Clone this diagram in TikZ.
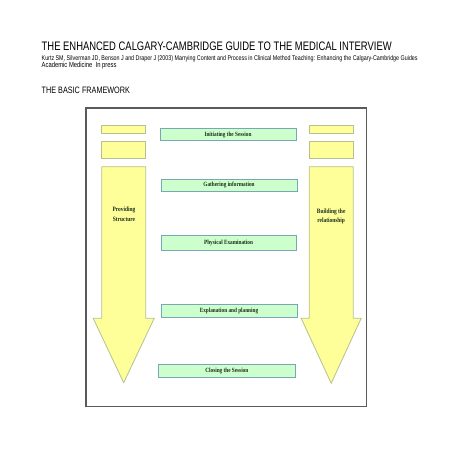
\documentclass[tikz,border=0pt]{standalone}
\usepackage{fontspec}
\setmainfont{Liberation Serif}
\newfontfamily\narrowsans[FakeStretch=0.78]{Liberation Sans}
\newfontfamily\labelserif[FakeStretch=0.82]{Liberation Serif}
\definecolor{yfill}{HTML}{FFFF99}
\definecolor{ydraw}{HTML}{B8C090}
\definecolor{gfill}{HTML}{CCFFCC}
\definecolor{gdraw}{HTML}{78A8B8}
\definecolor{framec}{HTML}{5A5A5A}
\definecolor{labc}{HTML}{1A2E1A}
\tikzset{
  x=1pt, y=-1pt,
  greenbox/.style={draw=gdraw, fill=gfill, line width=0.9pt, inner sep=0pt,
    minimum width=136pt, minimum height=13pt,
    font=\labelserif\bfseries\fontsize{6.4}{7.5}\selectfont, text=labc},
  yellowbox/.style={draw=ydraw, fill=yfill, line width=0.8pt, inner sep=0pt, minimum width=44pt},
  yarrow/.style={draw=ydraw, fill=yfill, line width=0.8pt, line join=miter},
  sidelabel/.style={font=\labelserif\bfseries\fontsize{6.6}{9.5}\selectfont, text=labc, align=center, inner sep=0pt},
  headtext/.style={anchor=base west, inner sep=0pt, text=black}
}
\begin{document}
\begin{tikzpicture}
\useasboundingbox (0,0) rectangle (453,453);
\fill[white] (0,0) rectangle (453,453);
% headings
\node[headtext] (title) at (41.5,50.2) {\resizebox{350pt}{8.6pt}{\narrowsans THE ENHANCED CALGARY-CAMBRIDGE GUIDE TO THE MEDICAL INTERVIEW}};
\node[headtext] (ref1) at (41.5,60) {\resizebox{376pt}{!}{\narrowsans\fontsize{7.7}{9}\selectfont Kurtz SM, Silverman JD, Benson J and Draper J (2003) Marrying Content and Process in Clinical Method Teaching: Enhancing the Calgary-Cambridge Guides}};
\node[headtext, font=\narrowsans\fontsize{7.5}{9}\selectfont] (ref2) at (41.5,67.7) {Academic Medicine\ \ In press};
\node[headtext, font=\narrowsans\fontsize{9.3}{11}\selectfont] (basic) at (41.5,93.3) {THE BASIC FRAMEWORK};
% frame
\node[draw=framec, line width=1.2pt, minimum width=280.7pt, minimum height=298.7pt, inner sep=0pt] (frame) at (226.35,257.35) {};
% left column
\node[yellowbox, minimum height=7.6pt] (ly1) at (123.7,129.5) {};
\node[yellowbox, minimum height=16.6pt] (ly2) at (123.7,150) {};
\draw[yarrow] (101.7,166.7) -- (145.7,166.7) -- (145.7,318.3) -- (154.2,318.3) -- (123.7,382.7) -- (93.2,318.3) -- (101.7,318.3) -- cycle;
\node[sidelabel] (prov) at (124,214) {Providing\\Structure};
% right column
\node[yellowbox, minimum height=7.6pt] (ry1) at (331.2,129.5) {};
\node[yellowbox, minimum height=16.6pt] (ry2) at (331.2,150) {};
\draw[yarrow] (309.2,166.7) -- (353.2,166.7) -- (353.2,318.3) -- (361.2,318.3) -- (331.2,383.3) -- (301.2,318.3) -- (309.2,318.3) -- cycle;
\node[sidelabel] (build) at (331.2,216.5) {Building the\\relationship};
% green boxes
\node[greenbox, minimum height=12.4pt] (init) at (228,134.5) {Initiating the Session};
\node[greenbox, minimum height=12.7pt] (gather) at (229,185.35) {Gathering information};
\node[greenbox, minimum height=15pt, minimum width=135pt] (phys) at (228.5,242.5) {Physical Examination};
\node[greenbox, minimum height=13.3pt] (expl) at (229,310.65) {Explanation and planning};
\node[greenbox, minimum height=13.3pt, minimum width=136.3pt] (close) at (226.85,370.65) {Closing the Session};
\end{tikzpicture}
\end{document}
